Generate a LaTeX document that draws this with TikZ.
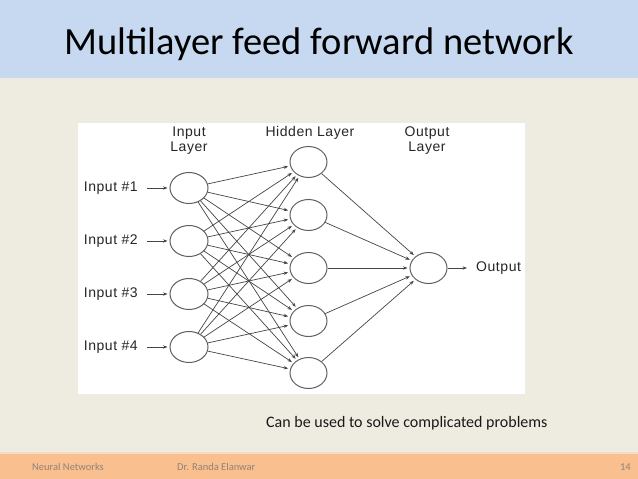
\documentclass[tikz,border=0pt]{standalone}
\usepackage{fontspec}
\setmainfont{Carlito}
\newfontfamily\netfont[LetterSpace=4]{Liberation Sans}
\usetikzlibrary{shapes.geometric,arrows.meta}
\definecolor{titlebg}{HTML}{C6D9F0}
\definecolor{bodybg}{HTML}{EEEBE0}
\definecolor{footbg}{HTML}{FABF8F}
\definecolor{footline}{HTML}{F6DCC2}
\definecolor{foottxt}{HTML}{8E8478}
\definecolor{netline}{HTML}{454545}
\definecolor{netnode}{HTML}{606060}
\begin{document}
\begin{tikzpicture}[x=1pt,y=-1pt,
  neuron/.style={ellipse,draw=netnode,line width=1pt,minimum width=37pt,minimum height=31pt,inner sep=0pt},
  netlabel/.style={font=\netfont\fontsize{14}{15}\selectfont,text=black!85,inner sep=0pt},
  arr/.style={draw=netline,line width=0.7pt,-{Stealth[length=4.5pt,width=3.4pt]},shorten >=2pt},
  foot/.style={font=\fontsize{10.5}{12}\selectfont,text=foottxt,inner sep=0pt}]
\useasboundingbox (0,0) rectangle (638,479);
\fill[bodybg] (0,0) rectangle (638,479);
\fill[titlebg] (0,0) rectangle (638,78);
\fill[footbg] (0,453) rectangle (638,479);
\fill[footline] (0,452) rectangle (638,453.5);
\fill[white] (78,123) rectangle (525,394);
\node[font=\fontsize{38.5}{46}\selectfont,anchor=base,inner sep=0pt] (title) at (319,54) {Multilayer feed forward network};
% input layer
\foreach \i/\y in {1/188,2/241,3/294,4/347} {
  \node[neuron,minimum width=38pt] (in\i) at (189,\y) {};
  \node[netlabel,anchor=east] (lab\i) at (138,\y) {Input \#\i};
  \draw[arr,shorten <=9pt] (lab\i) -- (in\i);
}
% hidden layer
\foreach \j/\y in {1/162,2/215,3/268,4/321,5/373} {
  \node[neuron] (h\j) at (308.5,\y) {};
}
% output
\node[neuron] (out) at (428.5,268) {};
\node[netlabel,anchor=west] (outlab) at (476,268) {Output};
\draw[arr,shorten >=9pt] (out) -- (outlab);
\foreach \i in {1,...,4} {
  \foreach \j in {1,...,5} {
    \draw[arr] (in\i) -- (h\j);
  }
}
\foreach \j in {1,...,5} {
  \draw[arr] (h\j) -- (out);
}
% layer titles
\node[netlabel,align=center] (ilay) at (189,140.5) {Input\\Layer};
\node[netlabel] (hlay) at (310,133) {Hidden Layer};
\node[netlabel,align=center] (olay) at (427,140.5) {Output\\Layer};
% caption
\node[font=\fontsize{16}{19}\selectfont,text=black!90,anchor=base west,inner sep=0pt] (cap) at (266,427) {Can be used to solve complicated problems};
% footer
\node[foot,anchor=base west] (f1) at (32,470) {Neural Networks};
\node[foot,anchor=base west] (f2) at (177,470) {Dr. Randa Elanwar};
\node[foot,anchor=base east] (f3) at (631,470) {14};
\end{tikzpicture}
\end{document}
